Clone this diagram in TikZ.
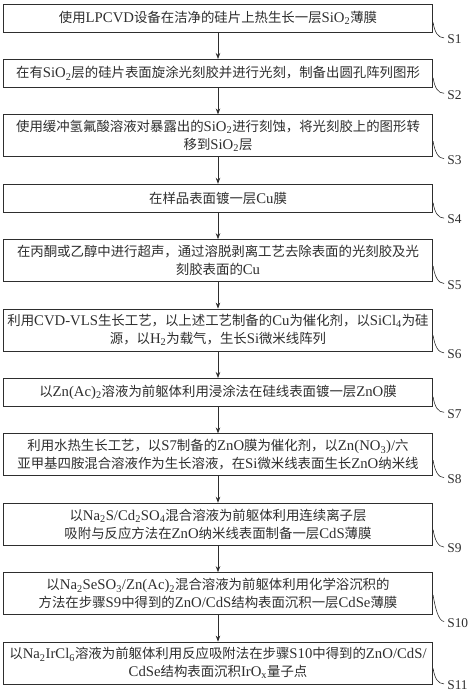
\documentclass[tikz,border=0pt]{standalone}
\usepackage{fontspec}
\setmainfont{Noto Sans CJK SC}
\newfontfamily\lat[Scale=1.1]{Liberation Serif}
\newfontfamily\labfont{Liberation Serif}
\usetikzlibrary{arrows.meta}
\newcommand\E[1]{{\lat #1}}
\newcommand\Sb[1]{\textsubscript{#1}}
\definecolor{ink}{HTML}{2E2E2E}
% #1 box, #2 label, #3 start height above box bottom, #4 label drop below box bottom
\newcommand\leader[4]{%
  \coordinate (#1s) at ([yshift=#3]#1.south east);
  \node[lab] (#1l) at ([xshift=13pt,yshift=-#4]#1.south east) {#2};
  \draw[lead] (#1s) .. controls +(1.5,10) and +(-6,0) .. ([xshift=-2pt,yshift=1.5pt]#1l.west);}
\begin{document}
\begin{tikzpicture}[x=1pt,y=-1pt,
  box/.style={draw=ink, line width=0.8pt, minimum width=429.4pt, inner sep=0pt,
    align=center, text=ink, font=\fontsize{13.4}{17.5}\selectfont},
  one/.style={box, minimum height=28pt},
  two/.style={box, minimum height=42pt},
  arr/.style={draw=ink, line width=0.7pt, -{Stealth[length=6pt,width=4.5pt]}},
  lead/.style={draw=ink, line width=0.6pt},
  lab/.style={text=ink, font=\labfont\fontsize{13.4}{15}\selectfont, inner sep=1pt, anchor=west}]
\useasboundingbox (0,0) rectangle (474,692);

\node[one] (b1) at (218,18) {使用\E{LPCVD}设备在洁净的硅片上热生长一层\E{SiO\Sb{2}}薄膜};
\node[one] (b2) at (218,73.4) {在有\E{SiO\Sb{2}}层的硅片表面旋涂光刻胶并进行光刻，制备出圆孔阵列图形};
\node[two] (b3) at (218,135.8) {使用缓冲氢氟酸溶液对暴露出的\E{SiO\Sb{2}}进行刻蚀，将光刻胶上的图形转\\移到\E{SiO\Sb{2}}层};
\node[one] (b4) at (218,198.2) {在样品表面镀一层\E{Cu}膜};
\node[two] (b5) at (218,260.6) {在丙酮或乙醇中进行超声，通过溶脱剥离工艺去除表面的光刻胶及光\\刻胶表面的\E{Cu}};
\node[two] (b6) at (218,330) {利用\E{CVD-VLS}生长工艺，以上述工艺制备的\E{Cu}为催化剂，以\E{SiCl\Sb{4}}为硅\\源，以\E{H\Sb{2}}为载气，生长\E{Si}微米线阵列};
\node[one] (b7) at (218,392.4) {以\E{Zn(Ac)\Sb{2}}溶液为前躯体利用浸涂法在硅线表面镀一层\E{ZnO}膜};
\node[two] (b8) at (218,454.8) {利用水热生长工艺，以\E{S7}制备的\E{ZnO}膜为催化剂，以\E{Zn(NO\Sb{3})/}六\\亚甲基四胺混合溶液作为生长溶液，在\E{Si}微米线表面生长\E{ZnO}纳米线};
\node[two] (b9) at (218,524.2) {以\E{Na\Sb{2}S/Cd\Sb{2}SO\Sb{4}}混合溶液为前躯体利用连续离子层\\吸附与反应方法在\E{ZnO}纳米线表面制备一层\E{CdS}薄膜};
\node[two] (b10) at (218,593.6) {以\E{Na\Sb{2}SeSO\Sb{3}/Zn(Ac)\Sb{2}}混合溶液为前躯体利用化学浴沉积的\\方法在步骤\E{S9}中得到的\E{ZnO/CdS}结构表面沉积一层\E{CdSe}薄膜};
\node[two] (b11) at (218,663) {以\E{Na\Sb{2}IrCl\Sb{6}}溶液为前躯体利用反应吸附法在步骤\E{S10}中得到的\E{ZnO/CdS/}\\\E{CdSe}结构表面沉积\E{IrO\Sb{x}}量子点};

\draw[arr] (b1) -- (b2);
\draw[arr] (b2) -- (b3);
\draw[arr] (b3) -- (b4);
\draw[arr] (b4) -- (b5);
\draw[arr] (b5) -- (b6);
\draw[arr] (b6) -- (b7);
\draw[arr] (b7) -- (b8);
\draw[arr] (b8) -- (b9);
\draw[arr] (b9) -- (b10);
\draw[arr] (b10) -- (b11);

\leader{b1}{S1}{10pt}{7pt}
\leader{b2}{S2}{10pt}{7pt}
\leader{b3}{S3}{16pt}{3pt}
\leader{b4}{S4}{10pt}{7pt}
\leader{b5}{S5}{16pt}{3pt}
\leader{b6}{S6}{16pt}{3pt}
\leader{b7}{S7}{10pt}{7pt}
\leader{b8}{S8}{16pt}{3pt}
\leader{b9}{S9}{16pt}{3pt}
\leader{b10}{S10}{20pt}{8pt}
\leader{b11}{S11}{16pt}{1pt}
\end{tikzpicture}
\end{document}
